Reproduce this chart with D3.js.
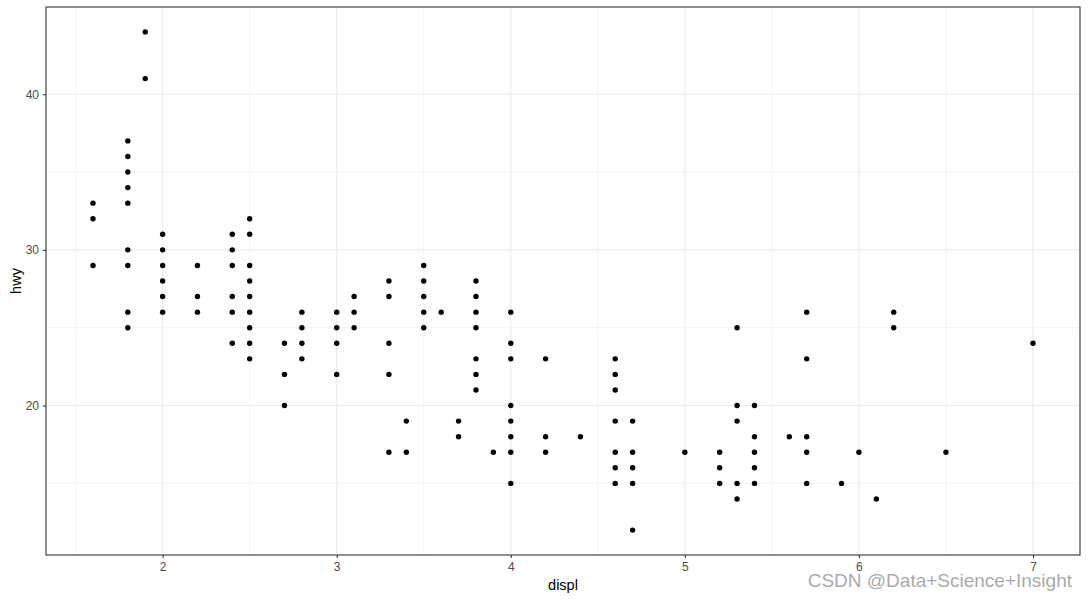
<!DOCTYPE html>
<html>
<head>
<meta charset="utf-8">
<script src="https://cdn.jsdelivr.net/npm/d3@7"></script>
<style>
  body { margin: 0; background: #fff; }
  text { font-family: "Liberation Sans", Arial, sans-serif; }
</style>
</head>
<body>
<div id="chart"></div>
<script>
// displ -> list of distinct hwy values seen at that displacement
const displValues = [1.6, 1.8, 1.9, 2.0, 2.2, 2.4, 2.5, 2.7, 2.8, 3.0, 3.1, 3.3, 3.4, 3.5, 3.6, 3.7, 3.8, 3.9,
  4.0, 4.2, 4.4, 4.6, 4.7, 5.0, 5.2, 5.3, 5.4, 5.6, 5.7, 5.9, 6.0, 6.1, 6.2, 6.5, 7.0];
const hwyValues = [
  [29, 32, 33],
  [25, 26, 29, 30, 33, 34, 35, 36, 37],
  [41, 44],
  [26, 27, 28, 29, 30, 31],
  [26, 27, 29],
  [24, 26, 27, 29, 30, 31],
  [23, 24, 25, 26, 27, 28, 29, 31, 32],
  [20, 22, 24],
  [23, 24, 25, 26],
  [22, 24, 25, 26],
  [25, 26, 27],
  [17, 22, 24, 27, 28],
  [17, 19],
  [25, 26, 27, 28, 29],
  [26],
  [18, 19],
  [21, 22, 23, 25, 26, 27, 28],
  [17],
  [15, 17, 18, 19, 20, 23, 24, 26],
  [17, 18, 23],
  [18],
  [15, 16, 17, 19, 21, 22, 23],
  [12, 15, 16, 17, 19],
  [17],
  [15, 16, 17],
  [14, 15, 19, 20, 25],
  [15, 16, 17, 18, 20],
  [18],
  [15, 17, 18, 23, 26],
  [15],
  [17],
  [14],
  [25, 26],
  [17],
  [24]
];
const xTicks = [2, 3, 4, 5, 6, 7];
const yTicks = [20, 30, 40];

const points = [];
displValues.forEach((d, i) => hwyValues[i].forEach(h => points.push({ displ: d, hwy: h })));

const width = 1088, height = 600;
const margin = { top: 7, right: 8, bottom: 45, left: 46 };
const pw = width - margin.left - margin.right;
const ph = height - margin.top - margin.bottom;

const svg = d3.select("#chart").append("svg")
  .attr("width", width)
  .attr("height", height);

// ggplot-style 5% expansion
const xr = d3.extent(points, d => d.displ), yr = d3.extent(points, d => d.hwy);
const xe = (xr[1] - xr[0]) * 0.05, ye = (yr[1] - yr[0]) * 0.05;
const x = d3.scaleLinear().domain([xr[0] - xe, xr[1] + xe]).range([0, pw]);
const y = d3.scaleLinear().domain([yr[0] - ye, yr[1] + ye]).range([ph, 0]);

const g = svg.append("g").attr("transform", `translate(${margin.left},${margin.top})`);

// minor + major grid
const xMinor = d3.range(1.5, 7.5, 1);
const yMinor = [15, 25, 35];
g.selectAll(".vminor").data(xMinor).enter().append("line")
  .attr("x1", d => x(d)).attr("x2", d => x(d)).attr("y1", 0).attr("y2", ph)
  .attr("stroke", "#ebebeb").attr("stroke-width", 0.6);
g.selectAll(".hminor").data(yMinor).enter().append("line")
  .attr("y1", d => y(d)).attr("y2", d => y(d)).attr("x1", 0).attr("x2", pw)
  .attr("stroke", "#ebebeb").attr("stroke-width", 0.6);
g.selectAll(".vmajor").data(xTicks).enter().append("line")
  .attr("x1", d => x(d)).attr("x2", d => x(d)).attr("y1", 0).attr("y2", ph)
  .attr("stroke", "#ebebeb").attr("stroke-width", 1.1);
g.selectAll(".hmajor").data(yTicks).enter().append("line")
  .attr("y1", d => y(d)).attr("y2", d => y(d)).attr("x1", 0).attr("x2", pw)
  .attr("stroke", "#ebebeb").attr("stroke-width", 1.1);

// points
g.selectAll("circle").data(points).enter().append("circle")
  .attr("cx", d => x(d.displ))
  .attr("cy", d => y(d.hwy))
  .attr("r", 2.7)
  .attr("fill", "#000");

// panel border
g.append("rect").attr("width", pw).attr("height", ph)
  .attr("fill", "none").attr("stroke", "#333").attr("stroke-width", 1.1);

// axes
const xAxis = g.append("g").attr("transform", `translate(0,${ph})`)
  .call(d3.axisBottom(x).tickValues(xTicks).tickSize(3).tickPadding(4).tickFormat(d3.format("d")));
const yAxis = g.append("g")
  .call(d3.axisLeft(y).tickValues(yTicks).tickSize(3).tickPadding(4).tickFormat(d3.format("d")));
[xAxis, yAxis].forEach(a => {
  a.select(".domain").remove();
  a.selectAll(".tick line").attr("stroke", "#333").attr("stroke-width", 1.1);
  a.selectAll(".tick text").attr("fill", "#4d4d4d").style("font-size", "12px")
    .style("font-family", "'Liberation Sans', Arial, sans-serif");
});

// axis titles
svg.append("text")
  .attr("x", margin.left + pw / 2).attr("y", 590)
  .attr("text-anchor", "middle").style("font-size", "14.5px").attr("fill", "#000")
  .text("displ");
svg.append("text")
  .attr("transform", `translate(21,${margin.top + ph / 2}) rotate(-90)`)
  .attr("text-anchor", "middle").style("font-size", "14.5px").attr("fill", "#000")
  .text("hwy");

// watermark
svg.append("text")
  .attr("x", 1072).attr("y", 587)
  .attr("text-anchor", "end").style("font-size", "19px")
  .attr("fill", "#999").attr("fill-opacity", 0.85)
  .text("CSDN @Data+Science+Insight");
</script>
</body>
</html>
